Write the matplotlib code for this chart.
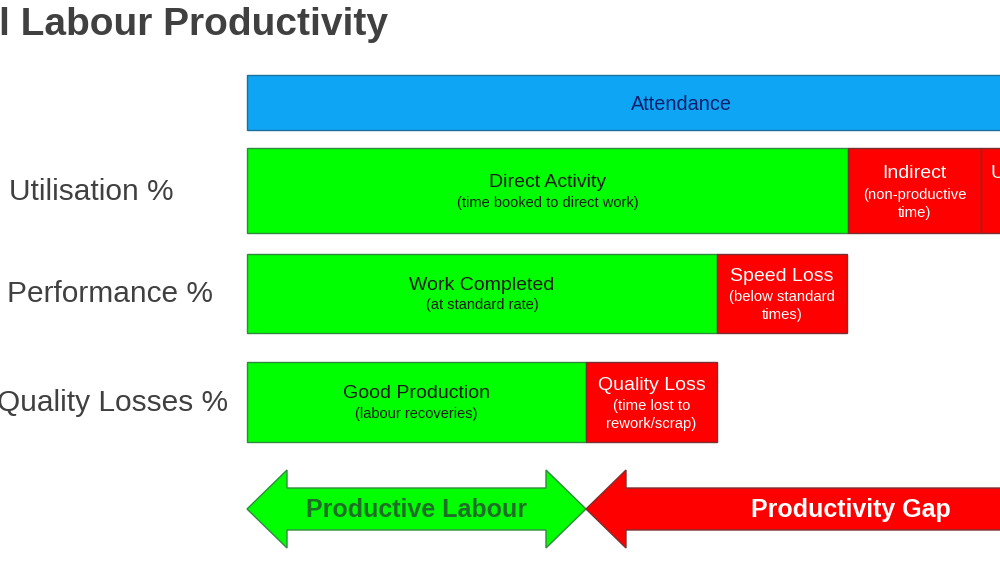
import matplotlib.pyplot as plt
from matplotlib.patches import Polygon

plt.rcParams['font.family'] = ['Liberation Sans', 'DejaVu Sans']

# =============================
# DATA (widths in chart units, one unit = one pixel of the slide)
# =============================
bar_left = 247
attendance_width = 800

row_names = ["Utilisation %", "Performance %", "Quality Losses %"]
green_widths = [601, 470, 339]     # direct activity, work completed, good production
red_widths = [133, 130, 131]       # indirect, speed loss, quality loss
extra_red_width = 60               # third utilisation segment (cut off)

green_titles = ["Direct Activity", "Work Completed", "Good Production"]
green_subs = ["(time booked to direct work)", "(at standard rate)", "(labour recoveries)"]
red_titles = ["Indirect", "Speed Loss", "Quality Loss"]
red_subs = [["(non-productive", "time)"],
            ["(below standard", "times)"],
            ["(time lost to", "rework/scrap)"]]

productive_width = green_widths[2]
gap_width = 480

# =============================
# STYLE
# =============================
BLUE = "#0ea6f4"
GREEN = "#00ff00"
RED = "#ff0000"
GREEN_EDGE = "#2e8b3e"
RED_EDGE = "#7a3030"
GREY = "#404040"

row_y = [190.5, 293.5, 402]
row_h = [85, 79, 80]

fig = plt.figure(figsize=(10, 5.62), dpi=100)
ax = fig.add_axes([0, 0, 1, 1])
ax.set_xlim(0, 1000)
ax.set_ylim(562, 0)
ax.axis("off")

# title (slide is cropped on the left)
ax.text(-1, 25, "l Labour Productivity", fontsize=28, fontweight="bold",
        color=GREY, ha="left", va="center")

# attendance bar
ax.barh(102.5, attendance_width, height=55, left=bar_left, color=BLUE,
        edgecolor="#1c6f9e", linewidth=1)
ax.text(bar_left + 434, 104, "Attendance", fontsize=14.3, color="#0b1f6b",
        ha="center", va="center")

label_x = [91, 110, 113]
for i in range(3):
    y = row_y[i]
    h = row_h[i]
    g = green_widths[i]
    r = red_widths[i]
    ax.barh(y, g, height=h, left=bar_left, color=GREEN,
            edgecolor=GREEN_EDGE, linewidth=1)
    ax.barh(y, r, height=h, left=bar_left + g, color=RED,
            edgecolor=RED_EDGE, linewidth=1)

    gx = bar_left + g / 2
    ax.text(gx, y - 8, green_titles[i], fontsize=14, color="#1a1a1a",
            ha="center", va="center")
    ax.text(gx, y + 12, green_subs[i], fontsize=10.5, color="#1a1a1a",
            ha="center", va="center")

    rx = bar_left + g + r / 2
    ax.text(rx, y - 17, red_titles[i], fontsize=14, color="white",
            ha="center", va="center")
    ax.text(rx, y + 4, red_subs[i][0], fontsize=10.7, color="white",
            ha="center", va="center")
    ax.text(rx, y + 22, red_subs[i][1], fontsize=10.7, color="white",
            ha="center", va="center")

    ax.text(label_x[i], y + 1, row_names[i], fontsize=21.5, color=GREY,
            ha="center", va="center")

# third utilisation segment, running off the slide
u_left = bar_left + green_widths[0] + red_widths[0]
ax.barh(row_y[0], extra_red_width, height=row_h[0], left=u_left, color=RED,
        edgecolor=RED_EDGE, linewidth=1)
ax.text(u_left + 10, row_y[0] - 17, "U", fontsize=14, color="white",
        ha="left", va="center")

# =============================
# ARROWS
# =============================
ay = 509
shaft = 21
head = 39
head_len = 40

x0 = bar_left
x1 = bar_left + productive_width
green_pts = [
    (x0, ay), (x0 + head_len, ay - head), (x0 + head_len, ay - shaft),
    (x1 - head_len, ay - shaft), (x1 - head_len, ay - head), (x1, ay),
    (x1 - head_len, ay + head), (x1 - head_len, ay + shaft),
    (x0 + head_len, ay + shaft), (x0 + head_len, ay + head),
]
ax.add_patch(Polygon(green_pts, closed=True, facecolor=GREEN,
                     edgecolor=GREEN_EDGE, linewidth=1))
ax.text((x0 + x1) / 2, ay + 1, "Productive Labour", fontsize=18,
        fontweight="bold", color="#1f6e28", ha="center", va="center")

x2 = x1 + gap_width
red_pts = [
    (x1, ay), (x1 + head_len, ay - head), (x1 + head_len, ay - shaft),
    (x2, ay - shaft), (x2, ay + shaft), (x1 + head_len, ay + shaft),
    (x1 + head_len, ay + head),
]
ax.add_patch(Polygon(red_pts, closed=True, facecolor=RED,
                     edgecolor=RED_EDGE, linewidth=1))
ax.text(851, ay + 1, "Productivity Gap", fontsize=18, fontweight="bold",
        color="white", ha="center", va="center")

plt.savefig("out.png", dpi=100)
